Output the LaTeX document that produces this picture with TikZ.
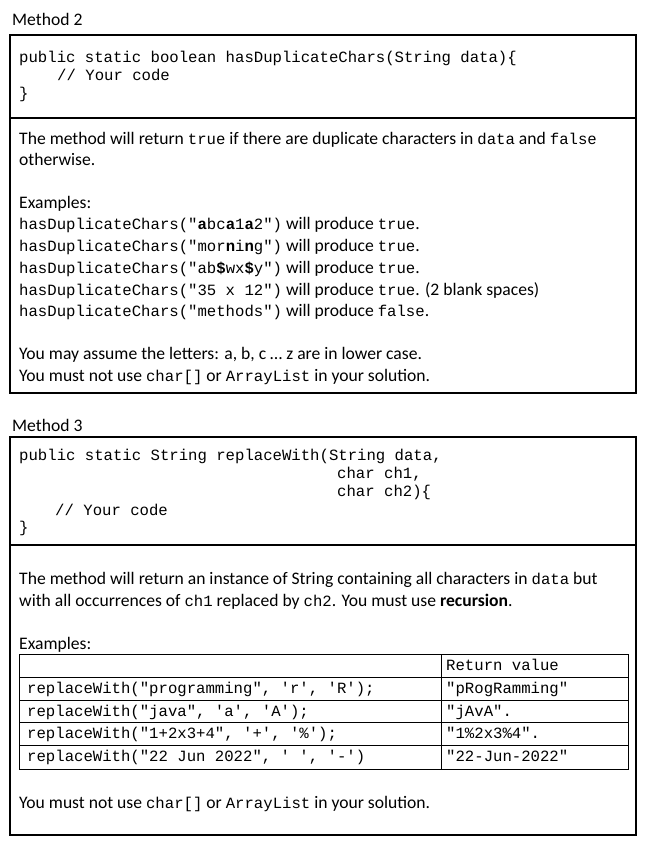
\documentclass[tikz,border=0pt]{standalone}
\usepackage{fontspec}
\setmainfont{Carlito}
\setmonofont{Liberation Mono}[Scale=0.889]
\newcommand\cd[1]{{\ttfamily #1}}
\newcommand\bcd[1]{{\ttfamily\bfseries #1}}
\begin{document}
\begin{tikzpicture}[x=1pt,y=-1pt,
  txt/.style={anchor=base west,inner sep=0pt,font=\fontsize{17.6}{20}\selectfont},
  box/.style={draw,line width=1.1pt}]
\useasboundingbox (0,0) rectangle (659,851);
% Method 2
\node[txt] (m2) at (12,26) {Method 2};
\draw[box] (10,35) rectangle (636,393);
\draw[line width=1.1pt] (10,118) -- (636,118);
\node[txt] (c1) at (19,63) {\cd{public static boolean hasDuplicateChars(String data)\{}};
\node[txt] (c2) at (57,81) {\cd{// Your code}};
\node[txt] (c3) at (19,99) {\cd{\}}};
\node[txt] (t1) at (19,144) {The method will return \cd{true} if there are duplicate characters in \cd{data} and \cd{false}};
\node[txt] (t2) at (19,165) {otherwise.};
\node[txt] (ex) at (19,208) {Examples:};
\node[txt] (e1) at (19,229) {\cd{hasDuplicateChars("\bcd{a}bc\bcd{a}1\bcd{a}2")} will produce \cd{true}.};
\node[txt] (e2) at (19,251) {\cd{hasDuplicateChars("mor\bcd{n}i\bcd{n}g")} will produce \cd{true}.};
\node[txt] (e3) at (19,273) {\cd{hasDuplicateChars("ab\bcd{\$}wx\bcd{\$}y")} will produce \cd{true}.};
\node[txt] (e4) at (19,295) {\cd{hasDuplicateChars("35 x 12")} will produce \cd{true}. (2 blank spaces)};
\node[txt] (e5) at (19,316) {\cd{hasDuplicateChars("methods")} will produce \cd{false}.};
\node[txt] (n1) at (19,359) {You may assume the letters: a, b, c … z are in lower case.};
\node[txt] (n2) at (19,381) {You must not use \cd{char[]} or \cd{ArrayList} in your solution.};
% Method 3
\node[txt] (m3) at (12,431) {Method 3};
\draw[box] (10,437) rectangle (636,835);
\draw[line width=1.1pt] (10,545) -- (636,545);
\node[txt] (d1) at (19,460) {\cd{public static String replaceWith(String data,}};
\node[txt] (d2) at (337,478) {\cd{char ch1,}};
\node[txt] (d3) at (337,496) {\cd{char ch2)\{}};
\node[txt] (d4) at (55,515) {\cd{// Your code}};
\node[txt] (d5) at (19,532) {\cd{\}}};
\node[txt] (u1) at (19,584) {The method will return an instance of String containing all characters in \cd{data} but};
\node[txt] (u2) at (19,606) {with all occurrences of \cd{ch1} replaced by \cd{ch2}. You must use \textbf{recursion}.};
\node[txt] (ex3) at (19,649) {Examples:};
% table
\draw[line width=0.8pt] (19,654) rectangle (628,769);
\foreach \yy in {677,700,722,745} \draw[line width=0.8pt] (19,\yy) -- (628,\yy);
\draw[line width=0.8pt] (441,654) -- (441,769);
\node[txt] (h) at (446,670) {\cd{Return value}};
\node[txt] (r1) at (27,693) {\cd{replaceWith("programming", 'r', 'R');}};
\node[txt] (v1) at (446,693) {\cd{"pRogRamming"}};
\node[txt] (r2) at (27,716) {\cd{replaceWith("java", 'a', 'A');}};
\node[txt] (v2) at (446,716) {\cd{"jAvA".}};
\node[txt] (r3) at (27,738) {\cd{replaceWith("1+2x3+4", '+', '\%');}};
\node[txt] (v3) at (446,738) {\cd{"1\%2x3\%4".}};
\node[txt] (r4) at (27,761) {\cd{replaceWith("22 Jun 2022", ' ', '-')}};
\node[txt] (v4) at (446,761) {\cd{"22-Jun-2022"}};
\node[txt] (u3) at (19,808) {You must not use \cd{char[]} or \cd{ArrayList} in your solution.};
\end{tikzpicture}
\end{document}
